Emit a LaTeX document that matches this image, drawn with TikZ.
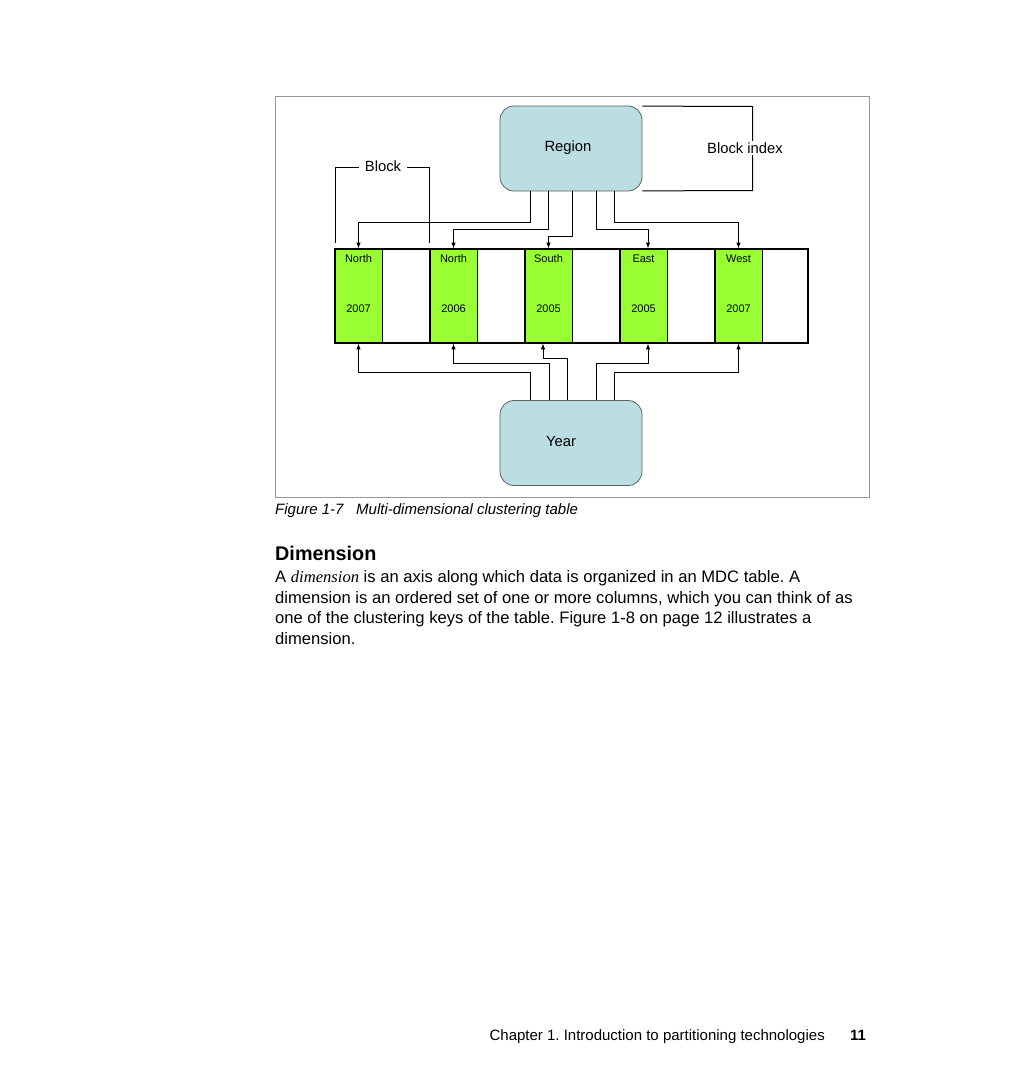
\documentclass[tikz,border=0pt]{standalone}
\usepackage{fontspec}
\setmainfont{Liberation Sans}
\newfontfamily\serifit{Liberation Serif}
\usetikzlibrary{arrows.meta}
\definecolor{boxblue}{RGB}{186,222,226}
\definecolor{cellgreen}{RGB}{153,255,51}
\definecolor{framegray}{RGB}{150,150,150}
\begin{document}
\frenchspacing
\begin{tikzpicture}[x=1pt,y=-1pt,
  dimbox/.style={draw=gray!75!black, fill=boxblue, rounded corners=14pt, minimum width=142pt, minimum height=85pt, inner sep=0pt, line width=0.8pt},
  cell/.style={draw=black, fill=cellgreen, minimum width=47pt, minimum height=94pt, inner sep=0pt, line width=0.8pt},
  celltxt/.style={font=\fontsize{11}{13}\selectfont, inner sep=0pt},
  arr/.style={-{Latex[length=6pt,width=4.5pt]}, line width=0.9pt},
  ln/.style={line width=1pt},
  lbl/.style={font=\fontsize{14.8}{17}\selectfont, inner sep=1.5pt, fill=white},
  boxtxt/.style={font=\fontsize{14.8}{17}\selectfont, inner sep=0pt},
  bodytxt/.style={font=\fontsize{16.6}{20}\selectfont, inner sep=0pt, anchor=base west}]
\useasboundingbox (0,0) rectangle (1024,1084);
\fill[white] (0,0) rectangle (1024,1084);
% frame
\draw[framegray, line width=0.9pt] (275,96) rectangle (869,497);
% dimension boxes
\node[dimbox] (region) at (571,148.5) {};
\node[boxtxt] (regiontxt) at (568,148) {Region};
\node[dimbox] (year) at (571,443) {};
\node[boxtxt] (yeartxt) at (561,441) {Year};
% cells
\foreach \i/\x/\nm/\yr in {1/358.5/North/2007, 2/453.5/North/2006, 3/548.5/South/2005, 4/643.5/East/2005, 5/738.5/West/2007}{
  \node[cell] (g\i) at (\x,296) {};
  \node[celltxt] (n\i) at (\x,259) {\nm};
  \node[celltxt] (y\i) at (\x,309) {\yr};
}
\draw[line width=2pt] (335,249) rectangle (808,343);
\foreach \x in {430,525,620,715}{ \draw[line width=2pt] (\x,249) -- (\x,343); }
% region connectors
\draw[arr] ([xshift=-41pt]region.south) -- ++(0,31) -| (g1.north);
\draw[arr] ([xshift=-23pt]region.south) -- ++(0,38) -| (g2.north);
\draw[arr] ([xshift=1pt]region.south) -- ++(0,45) -| (g3.north);
\draw[arr] ([xshift=25pt]region.south) -- ++(0,38) -| ([xshift=4.5pt]g4.north);
\draw[arr] ([xshift=43pt]region.south) -- ++(0,31) -| (g5.north);
% year connectors
\draw[arr] ([xshift=-41pt]year.north) -- ++(0,-28) -| (g1.south);
\draw[arr] ([xshift=-22pt]year.north) -- ++(0,-37) -| (g2.south);
\draw[arr] ([xshift=-4pt]year.north) -- ++(0,-42) -| ([xshift=-5.5pt]g3.south);
\draw[arr] ([xshift=25pt]year.north) -- ++(0,-37) -| ([xshift=4.5pt]g4.south);
\draw[arr] ([xshift=43pt]year.north) -- ++(0,-28) -| (g5.south);
% block index bracket
\coordinate (bitr) at (752.5,106.5);
\coordinate (bibr) at (752.5,190.5);
\draw[ln] ([yshift=-0.5pt]region.north east) -- (bitr) -- (bibr) -- ([yshift=0.5pt]region.south east);
\node[lbl] (bidx) at (745,148) {Block index};
% block bracket
\coordinate (bkL) at (335.5,243);
\coordinate (bkR) at (429.5,243);
\draw[ln] (bkL) -- (335.5,167.5) -- (429.5,167.5) -- (bkR);
\node[lbl, inner xsep=6pt] (blk) at (383,166) {Block};
% caption and text
\node[font=\fontsize{15}{17}\selectfont\itshape, inner sep=0pt, anchor=base west] (cap1) at (275,514) {Figure 1-7};
\node[font=\fontsize{15}{17}\selectfont\itshape, inner sep=0pt, anchor=base west] (cap2) at (356,514) {Multi-dimensional clustering table};
\node[font=\fontsize{19.8}{22}\selectfont\bfseries, inner sep=0pt, anchor=base west] (head) at (275,560) {Dimension};
\node[bodytxt] (l1) at (275,582) {A {\serifit\itshape dimension} is an axis along which data is organized in an MDC table. A};
\node[bodytxt] (l2) at (275,603) {dimension is an ordered set of one or more columns, which you can think of as};
\node[bodytxt] (l3) at (275,623) {one of the clustering keys of the table. Figure 1-8 on page 12 illustrates a};
\node[bodytxt] (l4) at (275,644) {dimension.};
% footer
\node[font=\fontsize{15}{17}\selectfont, inner sep=0pt, anchor=base east] (foot) at (825,1040) {Chapter 1. Introduction to partitioning technologies};
\node[font=\fontsize{15}{17}\selectfont\bfseries, inner sep=0pt, anchor=base] (pg) at (858,1040) {11};
\end{tikzpicture}
\end{document}
